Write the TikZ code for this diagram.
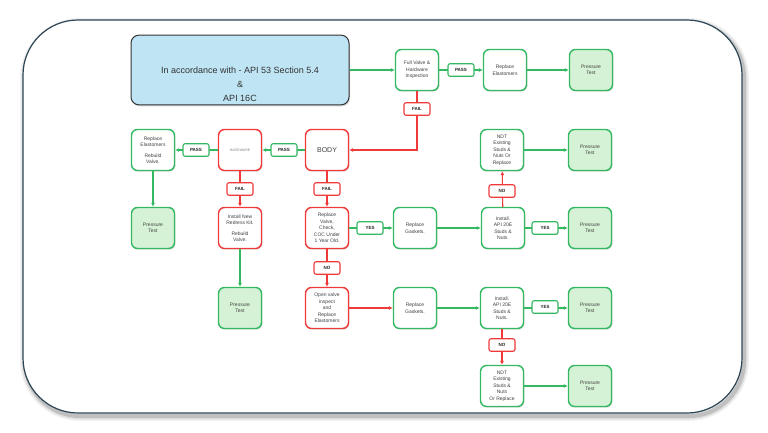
\documentclass[tikz,border=0pt]{standalone}
\usepackage{fontspec}
\setmainfont{Liberation Sans}
\usetikzlibrary{arrows.meta, positioning, shadows}
\definecolor{okgreen}{HTML}{34B862}
\definecolor{badred}{HTML}{F03A3A}
\definecolor{testfill}{HTML}{D6F2D6}
\definecolor{titlefill}{HTML}{BFE4F4}
\definecolor{framecol}{HTML}{2C4656}
\definecolor{txtgray}{HTML}{404040}
\tikzset{
	flowbox/.style={draw, line width=1.4pt, rounded corners=6pt, fill=white,
		minimum width=43pt, minimum height=41pt, inner sep=1pt, align=center,
		font=\fontsize{5}{6.5}\selectfont, text=txtgray,
		drop shadow={opacity=0.25, shadow xshift=1pt, shadow yshift=-1.2pt}},
	goodbox/.style={flowbox, draw=okgreen},
	badbox/.style={flowbox, draw=badred},
	testbox/.style={goodbox, fill=testfill},
	titlebox/.style={draw=black!80, line width=1pt, rounded corners=8pt, fill=titlefill,
		minimum width=218pt, minimum height=69pt, align=center,
		font=\fontsize{9}{14}\selectfont, text=black!80,
		drop shadow={opacity=0.3, shadow xshift=1pt, shadow yshift=-1.5pt}},
	choicetag/.style={draw, line width=1.1pt, rounded corners=2pt, fill=white,
		minimum width=26pt, minimum height=12.5pt, inner sep=1pt,
		font=\fontsize{4.5}{5}\selectfont\bfseries, text=black!85,
		drop shadow={opacity=0.2, shadow xshift=0.6pt, shadow yshift=-0.8pt}},
	passtag/.style={choicetag, draw=okgreen},
	failtag/.style={choicetag, draw=badred},
	goodline/.style={draw=okgreen, line width=1.1pt, -{Latex[length=4pt, width=4pt]}},
	badline/.style={draw=badred, line width=1.1pt, -{Latex[length=4pt, width=4pt]}}
}
\begin{document}
\begin{tikzpicture}[x=1pt, y=-1pt]
	\useasboundingbox (0,0) rectangle (768,433);
	% frame and its shadow
	\foreach \w/\o in {10/0.05, 7/0.08, 4/0.14}
		\draw[black, opacity=\o, line width=\w pt, rounded corners=55pt] (25,23) rectangle (744,416);
	\draw[framecol, line width=1.2pt, fill=white, rounded corners=55pt] (23,20) rectangle (742,413);
	% heading
	\node[titlebox] (title) at (240,70) {\mbox{}\\[21pt]In accordance with - API 53 Section 5.4\\ \&\\ API 16C};
	% top row
	\node[goodbox] (insp) at (417,70) {Full Valve \&\\Hardware\\Inspection};
	\node[goodbox] (elast) at (505,70) {Replace\\Elastomers};
	\node[testbox] (testA) at (591,70) {Pressure\\Test};
	% second row
	\node[goodbox] (rebuild) at (153,150) {Replace\\Elastomers\\[4pt]Rebuild\\Valve.};
	\node[badbox, font=\fontsize{3.5}{4}\selectfont, text=gray] (hard) at (240,150) {HARDWARE};
	\node[badbox, font=\fontsize{7}{8}\selectfont] (body) at (327,150) {BODY};
	\node[goodbox] (ndtA) at (502,150) {NDT\\Existing\\Studs \&\\Nuts Or\\Replace};
	\node[testbox] (testB) at (590,150) {Pressure\\Test};
	% third row
	\node[testbox] (testC) at (153,228) {Pressure\\Test};
	\node[badbox] (redress) at (240,228) {Install New\\Redress Kit.\\[4pt]Rebuild\\Valve.};
	\node[badbox] (coc) at (327,228) {Replace\\Valve,\\Check,\\COC Under\\1 Year Old.};
	\node[goodbox] (gaskA) at (415,228) {Replace\\Gaskets.};
	\node[goodbox] (studsA) at (503,228) {Install.\\API 20E\\Studs \&\\Nuts.};
	\node[testbox] (testD) at (590,228) {Pressure\\Test};
	% fourth row
	\node[testbox] (testE) at (240,308) {Pressure\\Test};
	\node[badbox] (open) at (327,308) {Open valve\\inspect\\and\\Replace\\Elastomers};
	\node[goodbox] (gaskB) at (415,308) {Replace\\Gaskets.};
	\node[goodbox] (studsB) at (502,308) {Install.\\API 20E\\Studs \&\\Nuts.};
	\node[testbox] (testF) at (590,308) {Pressure\\Test};
	% fifth row
	\node[goodbox] (ndtB) at (502,386) {NDT\\Existing\\Studs \&\\Nuts\\Or Replace};
	\node[testbox] (testG) at (590,386) {Pressure\\Test};
	% connectors
	\draw[goodline] (title) -- (insp);
	\draw[goodline] (insp) -- (elast);
	\draw[goodline] (elast) -- (testA);
	\draw[badline] (insp.south) |- (body.east);
	\draw[goodline] (body) -- (hard);
	\draw[goodline] (hard) -- (rebuild);
	\draw[goodline] (rebuild) -- (testC);
	\draw[badline] (hard) -- (redress);
	\draw[goodline] (redress) -- (testE);
	\draw[badline] (body) -- (coc);
	\draw[goodline] (coc) -- (gaskA);
	\draw[goodline] (gaskA) -- (studsA);
	\draw[goodline] (studsA) -- (testD);
	\draw[badline] (studsA) -- (ndtA);
	\draw[goodline] (ndtA) -- (testB);
	\draw[badline] (coc) -- (open);
	\draw[badline] (open) -- (gaskB);
	\draw[goodline] (gaskB) -- (studsB);
	\draw[goodline] (studsB) -- (testF);
	\draw[badline] (studsB) -- (ndtB);
	\draw[goodline] (ndtB) -- (testG);
	% answers on the lines
	\node[passtag] (passA) at (461,70) {PASS};
	\node[failtag] (failA) at (417,109) {FAIL};
	\node[passtag] (passB) at (284,150) {PASS};
	\node[passtag] (passC) at (196,150) {PASS};
	\node[failtag] (failB) at (240,189) {FAIL};
	\node[failtag] (failC) at (327,189) {FAIL};
	\node[failtag] (noA) at (502,191) {NO};
	\node[passtag] (yesA) at (370,228) {YES};
	\node[passtag] (yesB) at (545,228) {YES};
	\node[failtag] (noB) at (327,268) {NO};
	\node[passtag] (yesC) at (545,307) {YES};
	\node[failtag] (noC) at (502,345) {NO};
\end{tikzpicture}
\end{document}
